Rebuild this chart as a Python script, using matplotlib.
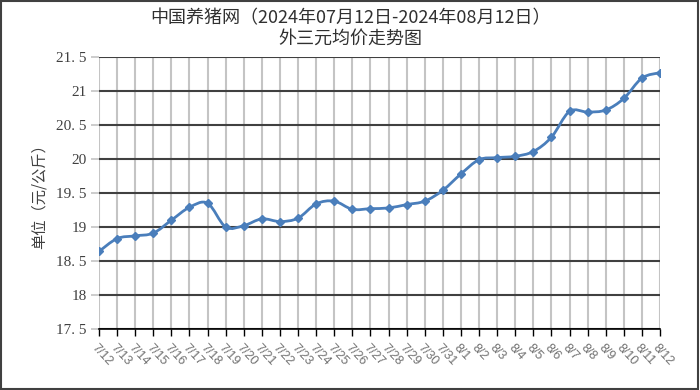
import numpy as np
import matplotlib
matplotlib.use("Agg")
from matplotlib import pyplot as plt
from matplotlib.path import Path
from matplotlib.patches import PathPatch, Rectangle
from matplotlib.transforms import offset_copy

dates = ['7/12', '7/13', '7/14', '7/15', '7/16', '7/17', '7/18', '7/19', '7/20',
         '7/21', '7/22', '7/23', '7/24', '7/25', '7/26', '7/27', '7/28', '7/29',
         '7/30', '7/31', '8/1', '8/2', '8/3', '8/4', '8/5', '8/6', '8/7', '8/8',
         '8/9', '8/10', '8/11', '8/12']
prices = [18.64, 18.83, 18.87, 18.91, 19.10, 19.29, 19.35, 19.00, 19.02,
          19.12, 19.08, 19.13, 19.34, 19.38, 19.26, 19.27, 19.28, 19.33,
          19.38, 19.54, 19.78, 19.99, 20.02, 20.04, 20.11, 20.32, 20.70, 20.69,
          20.72, 20.89, 21.19, 21.27]
yticks = [17.5, 18, 18.5, 19, 19.5, 20, 20.5, 21, 21.5]
ytick_labels = ['17. 5', '18', '18. 5', '19', '19. 5', '20', '20. 5', '21', '21. 5']

title = '中国养猪网（2024年07月12日-2024年08月12日）\n外三元均价走势图'
ylabel = '单位（元/公斤）'

cjk = ['Noto Sans CJK SC', 'DejaVu Sans']
blue = '#4a7ebb'

fig = plt.figure(figsize=(7, 3.9), dpi=100)
ax = fig.add_axes([99/700, 1-329/390, 561/700, 272/390])

x = np.arange(len(prices))
y = np.array(prices)

# smoothed line (Catmull-Rom as Bezier segments), like Excel's smoothed line
verts = [(x[0], y[0])]
codes = [Path.MOVETO]
n = len(x)
for i in range(n-1):
    p0 = (x[max(i-1, 0)], y[max(i-1, 0)])
    p1 = (x[i], y[i])
    p2 = (x[i+1], y[i+1])
    p3 = (x[min(i+2, n-1)], y[min(i+2, n-1)])
    c1 = (p1[0] + (p2[0]-p0[0])/6, p1[1] + (p2[1]-p0[1])/6)
    c2 = (p2[0] - (p3[0]-p1[0])/6, p2[1] - (p3[1]-p1[1])/6)
    verts += [c1, c2, p2]
    codes += [Path.CURVE4]*3
ax.add_patch(PathPatch(Path(verts, codes), facecolor='none', edgecolor=blue,
                       lw=2, zorder=3))
ax.plot(x, y, linestyle='none', marker='D', markersize=4.5, color=blue, zorder=4)

ax.set_xlim(0, n-1)
ax.set_ylim(17.5, 21.5)
ax.set_yticks(yticks, ytick_labels)
ax.tick_params(axis='y', length=6, width=1.2, color='#c4c4c4', pad=3,
               labelsize=11, labelcolor='#404040', labelfontfamily='Liberation Serif')

# category labels, rotated, hanging from each tick
ax.set_xticks(x, [''] * n)
ax.tick_params(axis='x', length=5, width=1, color='black')
lab_tr = offset_copy(ax.get_xaxis_transform(), fig=fig, x=-5, y=-17, units='dots')
for xi, d in zip(x, dates):
    ax.text(xi, 0, d, transform=lab_tr, rotation=-47, rotation_mode='anchor',
            ha='left', va='center', fontsize=9, color='#707070',
            family='Liberation Sans')

ax.grid(axis='y', color='#404040', lw=1.5)
ax.grid(axis='x', color='#c4c4c4', lw=1.5)
ax.set_axisbelow(True)
for s in ['top', 'right', 'left']:
    ax.spines[s].set_visible(False)
ax.spines['bottom'].set_color('black')
ax.spines['bottom'].set_linewidth(1.2)

ax.set_ylabel(ylabel, family=cjk, fontsize=11, color='#404040', labelpad=6)
fig.text(0.5, 1-9/390, title, ha='center', va='top', family=cjk, fontsize=13,
         color='#303030', linespacing=1.2)

fig.patches.append(Rectangle((0.002, 0.003), 0.995, 0.994, transform=fig.transFigure,
                             fill=False, edgecolor='#404040', lw=1.5))

fig.savefig('out.png', dpi=100)
